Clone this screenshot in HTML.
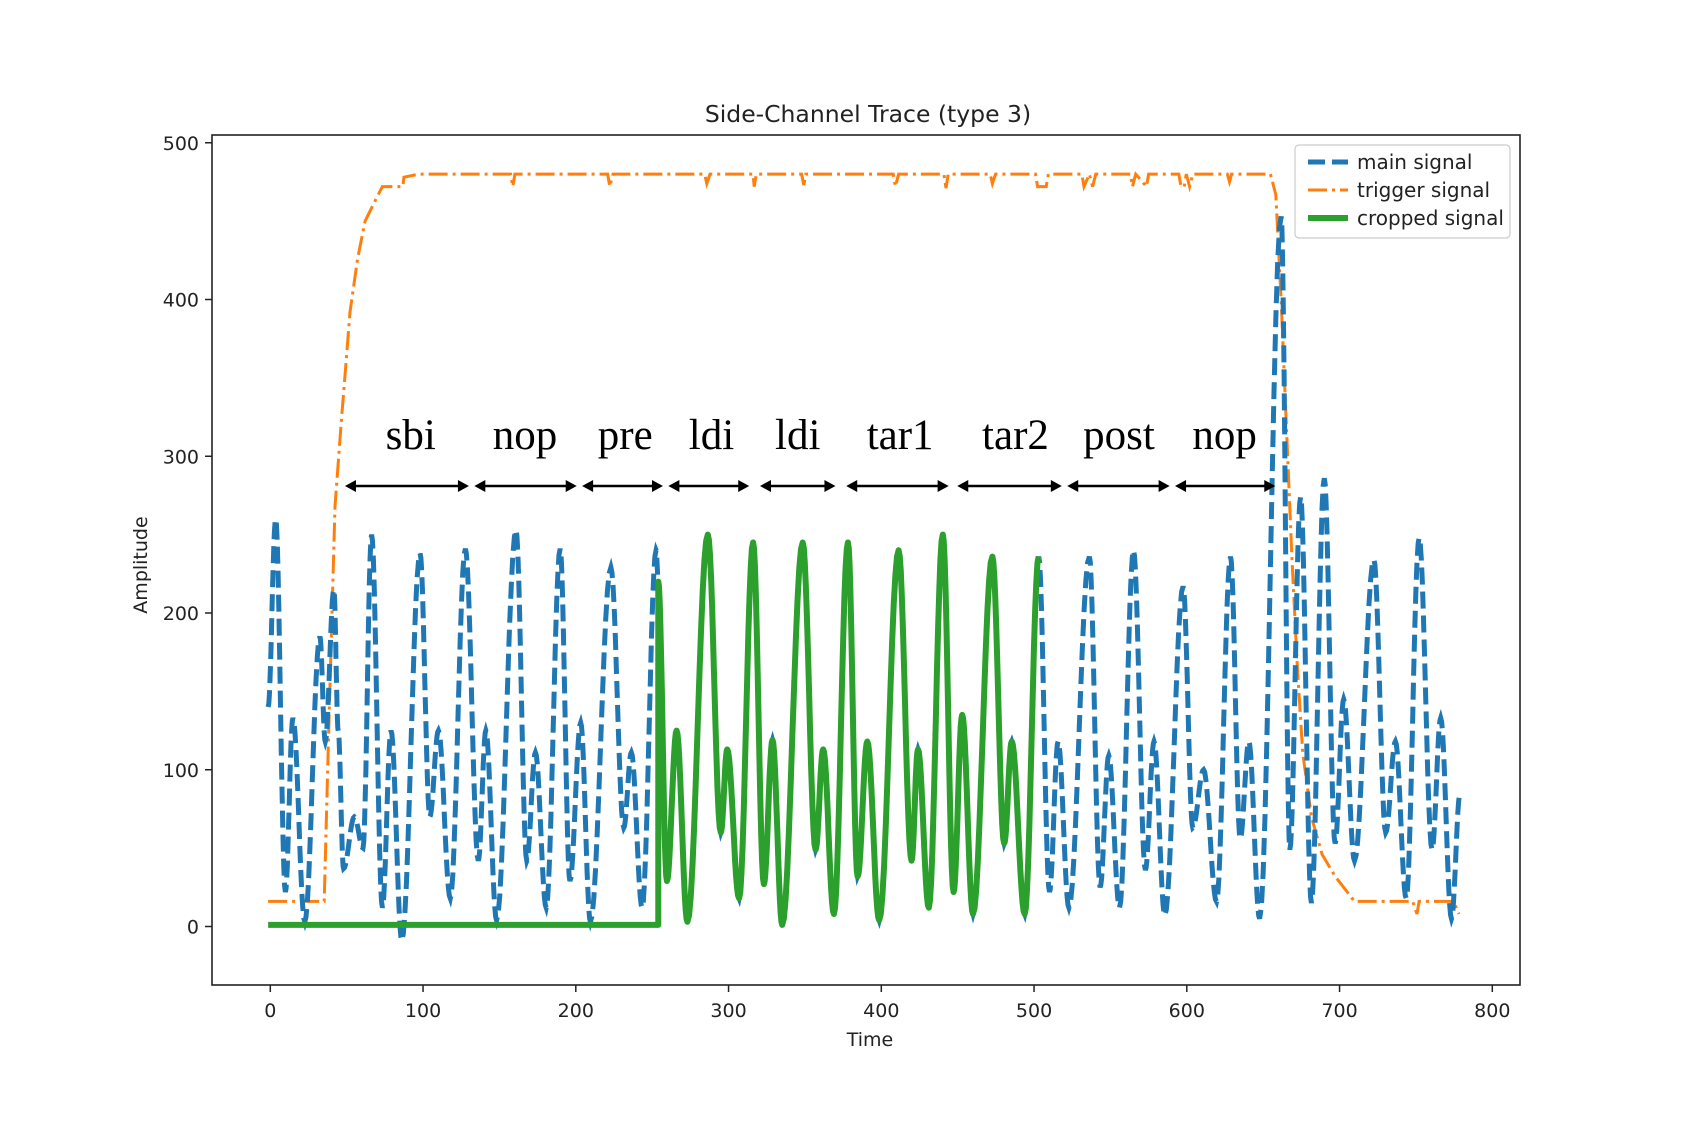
<!DOCTYPE html>
<html><head><meta charset="utf-8"><style>
html,body{margin:0;padding:0;background:#fff;}
svg text{font-family:"DejaVu Sans","Liberation Sans",sans-serif;fill:#222;}
</style></head><body>
<svg id="s" width="1687" height="1125" viewBox="0 0 1687 1125" xmlns="http://www.w3.org/2000/svg">
<rect width="1687" height="1125" fill="#fff"/>
<defs><clipPath id="c"><rect x="212" y="135" width="1308" height="850"/></clipPath></defs>
<g id="plot" clip-path="url(#c)"></g>
<rect x="212" y="135" width="1308" height="850" fill="none" stroke="#222" stroke-width="1.6"/>
<g id="ticks" stroke="#222" stroke-width="1.5"></g>
<g id="tl" font-size="19"></g>
<text x="868" y="122" font-size="23.5" text-anchor="middle">Side-Channel Trace (type 3)</text>
<text x="870" y="1046" font-size="19" text-anchor="middle">Time</text>
<text transform="translate(147,565) rotate(-90)" font-size="19" text-anchor="middle">Amplitude</text>
<g id="ann"></g>
<rect x="1295" y="145" width="215" height="93" rx="4" fill="#fff" fill-opacity="0.9" stroke="#ccc" stroke-width="1.2"/>
<line x1="1308" y1="162" x2="1348" y2="162" stroke="#1f77b4" stroke-width="5" stroke-dasharray="17 7"/>
<line x1="1308" y1="190" x2="1348" y2="190" stroke="#ff7f0e" stroke-width="3" stroke-dasharray="19 5 3 5"/>
<line x1="1308" y1="218" x2="1348" y2="218" stroke="#2ca02c" stroke-width="6"/>
<text x="1357" y="169" font-size="20">main signal</text>
<text x="1357" y="197" font-size="20">trigger signal</text>
<text x="1357" y="225" font-size="20">cropped signal</text>
</svg>
<script>
const NS="http://www.w3.org/2000/svg";
const X=xd=>270.3+1.0777*(xd-252);
const Y=v=>926.5-1.5675*v;
function mk(tag,attrs,parent){const e=document.createElementNS(NS,tag);for(const k in attrs)e.setAttribute(k,attrs[k]);(parent||document.getElementById('plot')).appendChild(e);return e;}
function cosPath(pts){let d="M"+X(pts[0][0]).toFixed(1)+","+Y(pts[0][1]).toFixed(1);
 for(let i=1;i<pts.length;i++){const [x0,v0]=pts[i-1],[x1,v1]=pts[i];const n=12;
  for(let k=1;k<=n;k++){const f=k/n,m=(1-Math.cos(Math.PI*f))/2;d+=" L"+X(x0+(x1-x0)*f).toFixed(1)+","+Y(v0+(v1-v0)*m).toFixed(1);}}
 return d;}
function linPath(pts){return pts.map((p,i)=>(i?"L":"M")+X(p[0]).toFixed(1)+","+Y(p[1]).toFixed(1)).join(" ");}
const main=[[250,140],[257,260],[266,22],[273,133],[284,3],[298,185],[303,118],[311,215],[315,125],[320,37],[330,70],[338,50],[346,250],[356,12],[364,125],[374,-9],[391,238],[400,70],[408,125],[419,18],[433,241],[445,42],[452,125],[462,4],[480,253],[490,42],[498,111],[508,12],[521,241],[530,29],[540,130],[549,3],[568,229],[580,63],[587,111],[597,12],[610,240],
[612,220],[620,29],[629,125],[639,3],[658,250],[670,60],[676,113],[687,18],[700,245],[710,27],[718,119],[727,1],[746,245],[758,49],[765,113],[775,8],[788,245],[797,32],[806,118],[817,4],[835,240],[847,42],[853,113],[863,12],[876,250],[886,22],[894,135],[904,8],[922,236],[933,53],[940,118],[952,8],[965,236],
[975,22],[983,118],[993,12],[1012,236],[1022,25],[1030,109],[1040,12],[1053,240],[1064,36],[1072,118],[1082,7],[1099,217],[1108,63],[1118,100],[1130,16],[1143,236],[1152,56],[1160,118],[1170,5],[1190,453],[1198,49],[1208,274],[1218,15],[1230,286],[1240,53],[1248,145],[1258,42],[1276,234],[1287,60],[1296,118],[1306,18],[1318,248],[1330,49],[1338,133],[1348,5],[1356,85]];
const green=main.filter(p=>p[0]>=612&&p[0]<=965);
const trig=[[250,16],[300,16],[302,16],[306,120],[312,268],[318,323],[322,357],[326,392],[333,426],[340,450],[350,464],[356,472],[375,472],[376,478],[390,480],
[475,480],[477,472],[479,480],[565,480],[567,472],[570,480],[655,480],[657,474],[660,480],[700,480],[701,472],[703,480],[745,480],[747,473],[749,480],[830,480],[832,472],[835,480],[877,480],[879,471],[881,480],[920,480],[922,474],[925,480],[962,480],[964,472],[972,472],[974,480],[1005,480],[1007,472],[1012,480],[1015,472],[1018,480],[1050,480],[1052,472],[1055,480],[1065,472],[1067,480],[1095,480],[1097,472],[1100,472],[1102,480],[1105,472],[1108,480],[1140,480],[1142,475],[1144,480],[1180,480],
[1185,467],[1190,399],[1195,316],[1200,234],[1205,166],[1210,111],[1218,70],[1228,46],[1240,32],[1258,16],[1312,16],[1316,8],[1318,16],[1350,16],[1355,8]];
mk('path',{d:linPath(trig),fill:"none",stroke:"#ff7f0e","stroke-width":3,"stroke-dasharray":"19 5 3 5"});
mk('path',{d:cosPath(main),fill:"none",stroke:"#1f77b4","stroke-width":5,"stroke-dasharray":"17 7"});
mk('path',{d:"M"+X(250)+","+Y(1)+" L"+X(612)+","+Y(1)+" L"+X(612)+","+Y(220)+" "+cosPath(green).replace(/^M/," L"),fill:"none",stroke:"#2ca02c","stroke-width":6,"stroke-linejoin":"round"});
const tk=document.getElementById('ticks'),tl=document.getElementById('tl');
for(let t=0;t<=800;t+=100){const x=270.3+1.5275*t;mk('line',{x1:x,y1:985,x2:x,y2:992},tk);const e=mk('text',{x:x,y:1017,"text-anchor":"middle"},tl);e.textContent=t;}
for(let v=0;v<=500;v+=100){const y=Y(v);mk('line',{x1:205,y1:y,x2:212,y2:y},tk);const e=mk('text',{x:199,y:y+7,"text-anchor":"end"},tl);e.textContent=v;}
const ann=document.getElementById('ann');
const S=1.078;
const labs=[["sbi",381],["nop",487],["pre",580],["ldi",660],["ldi",740],["tar1",835],["tar2",942],["post",1038],["nop",1136]];
labs.forEach(([s,x])=>{const e=mk('text',{x:x*S,y:449,"text-anchor":"middle","font-size":43,style:"font-family:'Liberation Serif',serif;fill:#000"},ann);e.textContent=s;});
const segs=[[320,435],[440,535],[540,615],[620,695],[705,775],[785,880],[888,985],[990,1085],[1090,1183]];
const ay=486;
segs.forEach(([a,b])=>{const x1=a*S,x2=b*S;
 mk('line',{x1:x1+4,y1:ay,x2:x2-4,y2:ay,stroke:"#000","stroke-width":2.5},ann);
 mk('polygon',{points:`${x1},${ay} ${x1+11},${ay-6} ${x1+11},${ay+6}`,fill:"#000"},ann);
 mk('polygon',{points:`${x2},${ay} ${x2-11},${ay-6} ${x2-11},${ay+6}`,fill:"#000"},ann);});
</script>
</body></html>
